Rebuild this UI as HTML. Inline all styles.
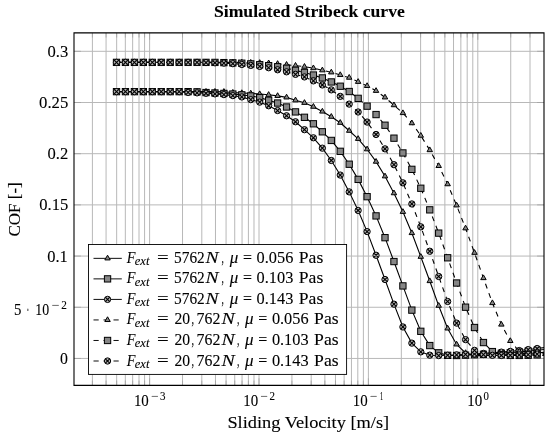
<!DOCTYPE html>
<html><head><meta charset="utf-8"><title>Simulated Stribeck curve</title>
<style>html,body{margin:0;padding:0;background:#fff}svg{display:block}text{font-family:"Liberation Serif",serif;fill:#000;stroke:#000;stroke-width:0.1px}</style></head><body>
<svg width="550" height="435" viewBox="0 0 550 435">
<rect width="550" height="435" fill="#fff"/>
<path d="M92.40 32.90V385.20M106.07 32.90V385.20M116.67 32.90V385.20M125.33 32.90V385.20M132.65 32.90V385.20M139.00 32.90V385.20M144.59 32.90V385.20M149.60 32.90V385.20M182.53 32.90V385.20M201.80 32.90V385.20M215.47 32.90V385.20M226.07 32.90V385.20M234.73 32.90V385.20M242.05 32.90V385.20M248.40 32.90V385.20M253.99 32.90V385.20M259.00 32.90V385.20M291.93 32.90V385.20M311.20 32.90V385.20M324.87 32.90V385.20M335.47 32.90V385.20M344.13 32.90V385.20M351.45 32.90V385.20M357.80 32.90V385.20M363.39 32.90V385.20M368.40 32.90V385.20M401.33 32.90V385.20M420.60 32.90V385.20M434.27 32.90V385.20M444.87 32.90V385.20M453.53 32.90V385.20M460.85 32.90V385.20M467.20 32.90V385.20M472.79 32.90V385.20M477.80 32.90V385.20M510.73 32.90V385.20M530.00 32.90V385.20M74.00 358.45H544.00M74.00 307.26H544.00M74.00 256.07H544.00M74.00 204.88H544.00M74.00 153.69H544.00M74.00 102.50H544.00M74.00 51.31H544.00" stroke="#b8b8b8" stroke-width="1.0" fill="none"/>
<path d="M92.40 385.20v-4.60M92.40 32.90v4.60M106.07 385.20v-4.60M106.07 32.90v4.60M116.67 385.20v-4.60M116.67 32.90v4.60M125.33 385.20v-4.60M125.33 32.90v4.60M132.65 385.20v-4.60M132.65 32.90v4.60M139.00 385.20v-4.60M139.00 32.90v4.60M144.59 385.20v-4.60M144.59 32.90v4.60M149.60 385.20v-6.90M149.60 32.90v6.90M182.53 385.20v-4.60M182.53 32.90v4.60M201.80 385.20v-4.60M201.80 32.90v4.60M215.47 385.20v-4.60M215.47 32.90v4.60M226.07 385.20v-4.60M226.07 32.90v4.60M234.73 385.20v-4.60M234.73 32.90v4.60M242.05 385.20v-4.60M242.05 32.90v4.60M248.40 385.20v-4.60M248.40 32.90v4.60M253.99 385.20v-4.60M253.99 32.90v4.60M259.00 385.20v-6.90M259.00 32.90v6.90M291.93 385.20v-4.60M291.93 32.90v4.60M311.20 385.20v-4.60M311.20 32.90v4.60M324.87 385.20v-4.60M324.87 32.90v4.60M335.47 385.20v-4.60M335.47 32.90v4.60M344.13 385.20v-4.60M344.13 32.90v4.60M351.45 385.20v-4.60M351.45 32.90v4.60M357.80 385.20v-4.60M357.80 32.90v4.60M363.39 385.20v-4.60M363.39 32.90v4.60M368.40 385.20v-6.90M368.40 32.90v6.90M401.33 385.20v-4.60M401.33 32.90v4.60M420.60 385.20v-4.60M420.60 32.90v4.60M434.27 385.20v-4.60M434.27 32.90v4.60M444.87 385.20v-4.60M444.87 32.90v4.60M453.53 385.20v-4.60M453.53 32.90v4.60M460.85 385.20v-4.60M460.85 32.90v4.60M467.20 385.20v-4.60M467.20 32.90v4.60M472.79 385.20v-4.60M472.79 32.90v4.60M477.80 385.20v-6.90M477.80 32.90v6.90M510.73 385.20v-4.60M510.73 32.90v4.60M530.00 385.20v-4.60M530.00 32.90v4.60M74.00 358.45h6.9M544.00 358.45h-6.9M74.00 307.26h6.9M544.00 307.26h-6.9M74.00 256.07h6.9M544.00 256.07h-6.9M74.00 204.88h6.9M544.00 204.88h-6.9M74.00 153.69h6.9M544.00 153.69h-6.9M74.00 102.50h6.9M544.00 102.50h-6.9M74.00 51.31h6.9M544.00 51.31h-6.9" stroke="#a2a2a2" stroke-width="0.8" fill="none"/>
<clipPath id="c"><rect x="74.0" y="32.9" width="470.0" height="352.3"/></clipPath>
<g clip-path="url(#c)" fill="none" stroke="#000" stroke-width="1.10">
<path d="M116.50 91.65L125.45 91.65L134.40 91.65L143.35 91.65L152.30 91.65L161.25 91.65L170.20 91.65L179.15 91.65L188.10 91.65L197.05 91.65L206.00 91.65L214.95 91.65L223.90 91.73L232.85 92.59L241.80 92.96L250.75 93.39L259.70 94.03L268.65 94.79L277.60 95.88L286.55 97.38L295.50 100.26L304.45 102.81L313.40 106.68L322.35 111.49L331.30 116.71L340.25 122.75L349.20 130.74L358.15 138.83L367.10 149.27L376.05 161.66L385.00 176.30L393.95 193.19L402.90 211.82L411.85 233.02L420.80 256.77L429.75 281.03L438.70 305.71L447.65 328.43L456.60 344.40L465.55 352.90L474.50 355.62L483.45 355.59L492.40 355.31L501.35 354.94L510.30 354.51L519.25 354.04L528.20 353.51L537.15 352.92L546.10 352.26"/>
<path d="M116.50 91.65L125.45 91.65L134.40 91.65L143.35 91.65L152.30 91.65L161.25 91.65L170.20 91.65L179.15 91.65L188.10 91.65L197.05 91.84L206.00 92.56L214.95 92.97L223.90 93.43L232.85 94.06L241.80 94.85L250.75 95.95L259.70 97.61L268.65 100.30L277.60 103.04L286.55 106.99L295.50 111.89L304.45 117.30L313.40 123.79L322.35 131.80L331.30 140.43L340.25 151.32L349.20 164.22L358.15 179.38L367.10 196.68L376.05 215.90L385.00 237.68L393.95 261.55L402.90 285.91L411.85 310.13L420.80 331.31L429.75 345.56L438.70 352.83L447.65 355.35L456.60 355.50L465.55 355.15L474.50 354.75L483.45 354.31L492.40 353.81L501.35 353.26L510.30 352.64L519.25 351.94L528.20 351.16L537.15 350.28L546.10 349.30"/>
<path d="M116.50 91.65L125.45 91.65L134.40 91.65L143.35 91.65L152.30 91.65L161.25 91.65L170.20 91.65L179.15 91.65L188.10 92.44L197.05 92.86L206.00 93.27L214.95 93.88L223.90 94.60L232.85 95.61L241.80 96.93L250.75 99.65L259.70 102.12L268.65 105.77L277.60 110.55L286.55 115.76L295.50 121.77L304.45 129.70L313.40 137.78L322.35 148.16L331.30 160.48L340.25 175.06L349.20 191.88L358.15 210.46L367.10 231.58L376.05 255.26L385.00 279.50L393.95 304.17L402.90 326.95L411.85 343.13L420.80 351.85L429.75 355.18L438.70 355.57L447.65 355.25L456.60 354.87L465.55 354.44L474.50 353.95L483.45 353.41L492.40 352.81L501.35 352.13L510.30 351.38L519.25 350.53L528.20 349.58L537.15 348.51L546.10 347.32"/>
<path d="M116.50 62.37L125.45 62.37L134.40 62.37L143.35 62.37L152.30 62.37L161.25 62.37L170.20 62.37L179.15 62.37L188.10 62.37L197.05 62.37L206.00 62.37L214.95 62.37L223.90 62.37L232.85 62.37L241.80 62.39L250.75 62.61L259.70 62.83L268.65 63.18L277.60 63.84L286.55 64.69L295.50 65.63L304.45 66.70L313.40 68.13L322.35 70.25L331.30 72.35L340.25 74.96L349.20 77.66L358.15 81.80L367.10 85.90L376.05 90.81L385.00 97.36L393.95 105.14L402.90 113.03L411.85 123.16L420.80 135.65L429.75 150.09L438.70 165.96L447.65 184.18L456.60 205.37L465.55 228.31L474.50 252.77L483.45 278.06L492.40 303.04L501.35 324.54L510.30 340.92L519.25 351.47L528.20 355.13L537.15 355.46L546.10 355.49" stroke-dasharray="5 5"/>
<path d="M116.50 62.37L125.45 62.37L134.40 62.37L143.35 62.37L152.30 62.37L161.25 62.37L170.20 62.37L179.15 62.37L188.10 62.37L197.05 62.37L206.00 62.37L214.95 62.41L223.90 62.62L232.85 62.85L241.80 63.22L250.75 63.89L259.70 64.73L268.65 65.67L277.60 66.77L286.55 68.26L295.50 70.31L304.45 72.48L313.40 75.04L322.35 77.93L331.30 81.94L340.25 86.23L349.20 91.52L358.15 98.35L367.10 106.16L376.05 114.56L385.00 125.23L393.95 138.17L402.90 152.94L411.85 169.35L420.80 188.25L429.75 209.85L438.70 233.13L447.65 257.79L456.60 283.01L465.55 307.19L474.50 327.51L483.45 342.55L492.40 351.59L501.35 354.83L510.30 355.40L519.25 355.43L528.20 355.21L537.15 354.87L546.10 354.44" stroke-dasharray="5 5"/>
<path d="M116.50 62.37L125.45 62.37L134.40 62.37L143.35 62.37L152.30 62.37L161.25 62.37L170.20 62.37L179.15 62.37L188.10 62.37L197.05 62.37L206.00 62.57L214.95 62.77L223.90 63.07L232.85 63.68L241.80 64.49L250.75 65.41L259.70 66.43L268.65 67.75L277.60 69.78L286.55 71.83L295.50 74.37L304.45 76.93L313.40 80.88L322.35 84.97L331.30 89.86L340.25 96.37L349.20 104.11L358.15 111.99L367.10 122.06L376.05 134.48L385.00 148.85L393.95 164.68L402.90 182.83L411.85 203.94L420.80 226.82L429.75 251.24L438.70 276.50L447.65 301.49L456.60 323.10L465.55 339.63L474.50 350.35L483.45 354.54L492.40 355.36L501.35 355.48L510.30 355.28L519.25 354.98L528.20 354.57L537.15 354.06L546.10 353.55" stroke-dasharray="5 5"/>
</g>
<g fill="#868686" stroke="#000" stroke-width="1.00">
<g><path d="M116.50 88.50L113.77 93.22L119.23 93.22Z"/><path d="M125.45 88.50L122.72 93.22L128.18 93.22Z"/><path d="M134.40 88.50L131.67 93.22L137.13 93.22Z"/><path d="M143.35 88.50L140.62 93.22L146.08 93.22Z"/><path d="M152.30 88.50L149.57 93.22L155.03 93.22Z"/><path d="M161.25 88.50L158.52 93.22L163.98 93.22Z"/><path d="M170.20 88.50L167.47 93.22L172.93 93.22Z"/><path d="M179.15 88.50L176.42 93.22L181.88 93.22Z"/><path d="M188.10 88.50L185.37 93.22L190.83 93.22Z"/><path d="M197.05 88.50L194.32 93.22L199.78 93.22Z"/><path d="M206.00 88.50L203.27 93.22L208.73 93.22Z"/><path d="M214.95 88.50L212.22 93.22L217.68 93.22Z"/><path d="M223.90 88.58L221.17 93.30L226.63 93.30Z"/><path d="M232.85 89.44L230.12 94.16L235.58 94.16Z"/><path d="M241.80 89.81L239.07 94.53L244.53 94.53Z"/><path d="M250.75 90.24L248.02 94.96L253.48 94.96Z"/><path d="M259.70 90.88L256.97 95.61L262.43 95.61Z"/><path d="M268.65 91.64L265.92 96.37L271.38 96.37Z"/><path d="M277.60 92.73L274.87 97.45L280.33 97.45Z"/><path d="M286.55 94.23L283.82 98.96L289.28 98.96Z"/><path d="M295.50 97.11L292.77 101.83L298.23 101.83Z"/><path d="M304.45 99.66L301.72 104.38L307.18 104.38Z"/><path d="M313.40 103.53L310.67 108.25L316.13 108.25Z"/><path d="M322.35 108.34L319.62 113.07L325.08 113.07Z"/><path d="M331.30 113.56L328.57 118.29L334.03 118.29Z"/><path d="M340.25 119.60L337.52 124.33L342.98 124.33Z"/><path d="M349.20 127.59L346.47 132.31L351.93 132.31Z"/><path d="M358.15 135.68L355.42 140.40L360.88 140.40Z"/><path d="M367.10 146.12L364.37 150.84L369.83 150.84Z"/><path d="M376.05 158.51L373.32 163.23L378.78 163.23Z"/><path d="M385.00 173.15L382.27 177.87L387.73 177.87Z"/><path d="M393.95 190.04L391.22 194.76L396.68 194.76Z"/><path d="M402.90 208.67L400.17 213.40L405.63 213.40Z"/><path d="M411.85 229.87L409.12 234.59L414.58 234.59Z"/><path d="M420.80 253.62L418.07 258.34L423.53 258.34Z"/><path d="M429.75 277.88L427.02 282.61L432.48 282.61Z"/><path d="M438.70 302.56L435.97 307.28L441.43 307.28Z"/><path d="M447.65 325.28L444.92 330.01L450.38 330.01Z"/><path d="M456.60 341.25L453.87 345.98L459.33 345.98Z"/><path d="M465.55 349.75L462.82 354.48L468.28 354.48Z"/><path d="M474.50 352.47L471.77 357.20L477.23 357.20Z"/><path d="M483.45 352.44L480.72 357.16L486.18 357.16Z"/><path d="M492.40 352.16L489.67 356.89L495.13 356.89Z"/><path d="M501.35 351.79L498.62 356.51L504.08 356.51Z"/><path d="M510.30 351.36L507.57 356.09L513.03 356.09Z"/><path d="M519.25 350.89L516.52 355.62L521.98 355.62Z"/><path d="M528.20 350.36L525.47 355.09L530.93 355.09Z"/><path d="M537.15 349.77L534.42 354.50L539.88 354.50Z"/></g>
<g><rect x="113.35" y="88.50" width="6.30" height="6.30"/><rect x="122.30" y="88.50" width="6.30" height="6.30"/><rect x="131.25" y="88.50" width="6.30" height="6.30"/><rect x="140.20" y="88.50" width="6.30" height="6.30"/><rect x="149.15" y="88.50" width="6.30" height="6.30"/><rect x="158.10" y="88.50" width="6.30" height="6.30"/><rect x="167.05" y="88.50" width="6.30" height="6.30"/><rect x="176.00" y="88.50" width="6.30" height="6.30"/><rect x="184.95" y="88.50" width="6.30" height="6.30"/><rect x="193.90" y="88.69" width="6.30" height="6.30"/><rect x="202.85" y="89.41" width="6.30" height="6.30"/><rect x="211.80" y="89.82" width="6.30" height="6.30"/><rect x="220.75" y="90.28" width="6.30" height="6.30"/><rect x="229.70" y="90.91" width="6.30" height="6.30"/><rect x="238.65" y="91.70" width="6.30" height="6.30"/><rect x="247.60" y="92.80" width="6.30" height="6.30"/><rect x="256.55" y="94.46" width="6.30" height="6.30"/><rect x="265.50" y="97.15" width="6.30" height="6.30"/><rect x="274.45" y="99.89" width="6.30" height="6.30"/><rect x="283.40" y="103.84" width="6.30" height="6.30"/><rect x="292.35" y="108.74" width="6.30" height="6.30"/><rect x="301.30" y="114.15" width="6.30" height="6.30"/><rect x="310.25" y="120.64" width="6.30" height="6.30"/><rect x="319.20" y="128.65" width="6.30" height="6.30"/><rect x="328.15" y="137.28" width="6.30" height="6.30"/><rect x="337.10" y="148.17" width="6.30" height="6.30"/><rect x="346.05" y="161.07" width="6.30" height="6.30"/><rect x="355.00" y="176.23" width="6.30" height="6.30"/><rect x="363.95" y="193.53" width="6.30" height="6.30"/><rect x="372.90" y="212.75" width="6.30" height="6.30"/><rect x="381.85" y="234.53" width="6.30" height="6.30"/><rect x="390.80" y="258.40" width="6.30" height="6.30"/><rect x="399.75" y="282.76" width="6.30" height="6.30"/><rect x="408.70" y="306.98" width="6.30" height="6.30"/><rect x="417.65" y="328.16" width="6.30" height="6.30"/><rect x="426.60" y="342.41" width="6.30" height="6.30"/><rect x="435.55" y="349.68" width="6.30" height="6.30"/><rect x="444.50" y="352.20" width="6.30" height="6.30"/><rect x="453.45" y="352.35" width="6.30" height="6.30"/><rect x="462.40" y="352.00" width="6.30" height="6.30"/><rect x="471.35" y="351.60" width="6.30" height="6.30"/><rect x="480.30" y="351.16" width="6.30" height="6.30"/><rect x="489.25" y="350.66" width="6.30" height="6.30"/><rect x="498.20" y="350.11" width="6.30" height="6.30"/><rect x="507.15" y="349.49" width="6.30" height="6.30"/><rect x="516.10" y="348.79" width="6.30" height="6.30"/><rect x="525.05" y="348.01" width="6.30" height="6.30"/><rect x="534.00" y="347.13" width="6.30" height="6.30"/></g>
<g><circle cx="116.50" cy="91.65" r="3.15" fill="#b8b8b8"/><path stroke-width="1.1" d="M114.27 89.42L118.73 93.88M114.27 93.88L118.73 89.42"/><circle cx="125.45" cy="91.65" r="3.15" fill="#b8b8b8"/><path stroke-width="1.1" d="M123.22 89.42L127.68 93.88M123.22 93.88L127.68 89.42"/><circle cx="134.40" cy="91.65" r="3.15" fill="#b8b8b8"/><path stroke-width="1.1" d="M132.17 89.42L136.63 93.88M132.17 93.88L136.63 89.42"/><circle cx="143.35" cy="91.65" r="3.15" fill="#b8b8b8"/><path stroke-width="1.1" d="M141.12 89.42L145.58 93.88M141.12 93.88L145.58 89.42"/><circle cx="152.30" cy="91.65" r="3.15" fill="#b8b8b8"/><path stroke-width="1.1" d="M150.07 89.42L154.53 93.88M150.07 93.88L154.53 89.42"/><circle cx="161.25" cy="91.65" r="3.15" fill="#b8b8b8"/><path stroke-width="1.1" d="M159.02 89.42L163.48 93.88M159.02 93.88L163.48 89.42"/><circle cx="170.20" cy="91.65" r="3.15" fill="#b8b8b8"/><path stroke-width="1.1" d="M167.97 89.42L172.43 93.88M167.97 93.88L172.43 89.42"/><circle cx="179.15" cy="91.65" r="3.15" fill="#b8b8b8"/><path stroke-width="1.1" d="M176.92 89.42L181.38 93.88M176.92 93.88L181.38 89.42"/><circle cx="188.10" cy="92.44" r="3.15" fill="#b8b8b8"/><path stroke-width="1.1" d="M185.87 90.21L190.33 94.67M185.87 94.67L190.33 90.21"/><circle cx="197.05" cy="92.86" r="3.15" fill="#b8b8b8"/><path stroke-width="1.1" d="M194.82 90.64L199.28 95.09M194.82 95.09L199.28 90.64"/><circle cx="206.00" cy="93.27" r="3.15" fill="#b8b8b8"/><path stroke-width="1.1" d="M203.77 91.05L208.23 95.50M203.77 95.50L208.23 91.05"/><circle cx="214.95" cy="93.88" r="3.15" fill="#b8b8b8"/><path stroke-width="1.1" d="M212.72 91.65L217.18 96.11M212.72 96.11L217.18 91.65"/><circle cx="223.90" cy="94.60" r="3.15" fill="#b8b8b8"/><path stroke-width="1.1" d="M221.67 92.37L226.13 96.82M221.67 96.82L226.13 92.37"/><circle cx="232.85" cy="95.61" r="3.15" fill="#b8b8b8"/><path stroke-width="1.1" d="M230.62 93.38L235.08 97.84M230.62 97.84L235.08 93.38"/><circle cx="241.80" cy="96.93" r="3.15" fill="#b8b8b8"/><path stroke-width="1.1" d="M239.57 94.70L244.03 99.16M239.57 99.16L244.03 94.70"/><circle cx="250.75" cy="99.65" r="3.15" fill="#b8b8b8"/><path stroke-width="1.1" d="M248.52 97.43L252.98 101.88M248.52 101.88L252.98 97.43"/><circle cx="259.70" cy="102.12" r="3.15" fill="#b8b8b8"/><path stroke-width="1.1" d="M257.47 99.89L261.93 104.35M257.47 104.35L261.93 99.89"/><circle cx="268.65" cy="105.77" r="3.15" fill="#b8b8b8"/><path stroke-width="1.1" d="M266.42 103.54L270.88 108.00M266.42 108.00L270.88 103.54"/><circle cx="277.60" cy="110.55" r="3.15" fill="#b8b8b8"/><path stroke-width="1.1" d="M275.37 108.32L279.83 112.77M275.37 112.77L279.83 108.32"/><circle cx="286.55" cy="115.76" r="3.15" fill="#b8b8b8"/><path stroke-width="1.1" d="M284.32 113.53L288.78 117.98M284.32 117.98L288.78 113.53"/><circle cx="295.50" cy="121.77" r="3.15" fill="#b8b8b8"/><path stroke-width="1.1" d="M293.27 119.54L297.73 124.00M293.27 124.00L297.73 119.54"/><circle cx="304.45" cy="129.70" r="3.15" fill="#b8b8b8"/><path stroke-width="1.1" d="M302.22 127.47L306.68 131.93M302.22 131.93L306.68 127.47"/><circle cx="313.40" cy="137.78" r="3.15" fill="#b8b8b8"/><path stroke-width="1.1" d="M311.17 135.56L315.63 140.01M311.17 140.01L315.63 135.56"/><circle cx="322.35" cy="148.16" r="3.15" fill="#b8b8b8"/><path stroke-width="1.1" d="M320.12 145.93L324.58 150.38M320.12 150.38L324.58 145.93"/><circle cx="331.30" cy="160.48" r="3.15" fill="#b8b8b8"/><path stroke-width="1.1" d="M329.07 158.26L333.53 162.71M329.07 162.71L333.53 158.26"/><circle cx="340.25" cy="175.06" r="3.15" fill="#b8b8b8"/><path stroke-width="1.1" d="M338.02 172.83L342.48 177.29M338.02 177.29L342.48 172.83"/><circle cx="349.20" cy="191.88" r="3.15" fill="#b8b8b8"/><path stroke-width="1.1" d="M346.97 189.66L351.43 194.11M346.97 194.11L351.43 189.66"/><circle cx="358.15" cy="210.46" r="3.15" fill="#b8b8b8"/><path stroke-width="1.1" d="M355.92 208.24L360.38 212.69M355.92 212.69L360.38 208.24"/><circle cx="367.10" cy="231.58" r="3.15" fill="#b8b8b8"/><path stroke-width="1.1" d="M364.87 229.35L369.33 233.81M364.87 233.81L369.33 229.35"/><circle cx="376.05" cy="255.26" r="3.15" fill="#b8b8b8"/><path stroke-width="1.1" d="M373.82 253.03L378.28 257.48M373.82 257.48L378.28 253.03"/><circle cx="385.00" cy="279.50" r="3.15" fill="#b8b8b8"/><path stroke-width="1.1" d="M382.77 277.28L387.23 281.73M382.77 281.73L387.23 277.28"/><circle cx="393.95" cy="304.17" r="3.15" fill="#b8b8b8"/><path stroke-width="1.1" d="M391.72 301.94L396.18 306.39M391.72 306.39L396.18 301.94"/><circle cx="402.90" cy="326.95" r="3.15" fill="#b8b8b8"/><path stroke-width="1.1" d="M400.67 324.72L405.13 329.18M400.67 329.18L405.13 324.72"/><circle cx="411.85" cy="343.13" r="3.15" fill="#b8b8b8"/><path stroke-width="1.1" d="M409.62 340.90L414.08 345.35M409.62 345.35L414.08 340.90"/><circle cx="420.80" cy="351.85" r="3.15" fill="#b8b8b8"/><path stroke-width="1.1" d="M418.57 349.62L423.03 354.07M418.57 354.07L423.03 349.62"/><circle cx="429.75" cy="355.18" r="3.15" fill="#b8b8b8"/><path stroke-width="1.1" d="M427.52 352.95L431.98 357.41M427.52 357.41L431.98 352.95"/><circle cx="438.70" cy="355.57" r="3.15" fill="#b8b8b8"/><path stroke-width="1.1" d="M436.47 353.35L440.93 357.80M436.47 357.80L440.93 353.35"/><circle cx="447.65" cy="355.25" r="3.15" fill="#b8b8b8"/><path stroke-width="1.1" d="M445.42 353.02L449.88 357.48M445.42 357.48L449.88 353.02"/><circle cx="456.60" cy="354.87" r="3.15" fill="#b8b8b8"/><path stroke-width="1.1" d="M454.37 352.64L458.83 357.09M454.37 357.09L458.83 352.64"/><circle cx="465.55" cy="354.44" r="3.15" fill="#b8b8b8"/><path stroke-width="1.1" d="M463.32 352.21L467.78 356.66M463.32 356.66L467.78 352.21"/><circle cx="474.50" cy="353.95" r="3.15" fill="#b8b8b8"/><path stroke-width="1.1" d="M472.27 351.73L476.73 356.18M472.27 356.18L476.73 351.73"/><circle cx="483.45" cy="353.41" r="3.15" fill="#b8b8b8"/><path stroke-width="1.1" d="M481.22 351.19L485.68 355.64M481.22 355.64L485.68 351.19"/><circle cx="492.40" cy="352.81" r="3.15" fill="#b8b8b8"/><path stroke-width="1.1" d="M490.17 350.58L494.63 355.04M490.17 355.04L494.63 350.58"/><circle cx="501.35" cy="352.13" r="3.15" fill="#b8b8b8"/><path stroke-width="1.1" d="M499.12 349.91L503.58 354.36M499.12 354.36L503.58 349.91"/><circle cx="510.30" cy="351.38" r="3.15" fill="#b8b8b8"/><path stroke-width="1.1" d="M508.07 349.15L512.53 353.60M508.07 353.60L512.53 349.15"/><circle cx="519.25" cy="350.53" r="3.15" fill="#b8b8b8"/><path stroke-width="1.1" d="M517.02 348.30L521.48 352.75M517.02 352.75L521.48 348.30"/><circle cx="528.20" cy="349.58" r="3.15" fill="#b8b8b8"/><path stroke-width="1.1" d="M525.97 347.35L530.43 351.80M525.97 351.80L530.43 347.35"/><circle cx="537.15" cy="348.51" r="3.15" fill="#b8b8b8"/><path stroke-width="1.1" d="M534.92 346.28L539.38 350.74M534.92 350.74L539.38 346.28"/></g>
<g><path d="M116.50 59.22L113.77 63.94L119.23 63.94Z"/><path d="M125.45 59.22L122.72 63.94L128.18 63.94Z"/><path d="M134.40 59.22L131.67 63.94L137.13 63.94Z"/><path d="M143.35 59.22L140.62 63.94L146.08 63.94Z"/><path d="M152.30 59.22L149.57 63.94L155.03 63.94Z"/><path d="M161.25 59.22L158.52 63.94L163.98 63.94Z"/><path d="M170.20 59.22L167.47 63.94L172.93 63.94Z"/><path d="M179.15 59.22L176.42 63.94L181.88 63.94Z"/><path d="M188.10 59.22L185.37 63.94L190.83 63.94Z"/><path d="M197.05 59.22L194.32 63.94L199.78 63.94Z"/><path d="M206.00 59.22L203.27 63.94L208.73 63.94Z"/><path d="M214.95 59.22L212.22 63.94L217.68 63.94Z"/><path d="M223.90 59.22L221.17 63.94L226.63 63.94Z"/><path d="M232.85 59.22L230.12 63.94L235.58 63.94Z"/><path d="M241.80 59.24L239.07 63.96L244.53 63.96Z"/><path d="M250.75 59.46L248.02 64.19L253.48 64.19Z"/><path d="M259.70 59.68L256.97 64.40L262.43 64.40Z"/><path d="M268.65 60.03L265.92 64.75L271.38 64.75Z"/><path d="M277.60 60.69L274.87 65.42L280.33 65.42Z"/><path d="M286.55 61.54L283.82 66.27L289.28 66.27Z"/><path d="M295.50 62.48L292.77 67.21L298.23 67.21Z"/><path d="M304.45 63.55L301.72 68.27L307.18 68.27Z"/><path d="M313.40 64.98L310.67 69.71L316.13 69.71Z"/><path d="M322.35 67.10L319.62 71.83L325.08 71.83Z"/><path d="M331.30 69.20L328.57 73.92L334.03 73.92Z"/><path d="M340.25 71.81L337.52 76.53L342.98 76.53Z"/><path d="M349.20 74.51L346.47 79.24L351.93 79.24Z"/><path d="M358.15 78.65L355.42 83.38L360.88 83.38Z"/><path d="M367.10 82.75L364.37 87.47L369.83 87.47Z"/><path d="M376.05 87.66L373.32 92.38L378.78 92.38Z"/><path d="M385.00 94.21L382.27 98.94L387.73 98.94Z"/><path d="M393.95 101.99L391.22 106.72L396.68 106.72Z"/><path d="M402.90 109.88L400.17 114.60L405.63 114.60Z"/><path d="M411.85 120.01L409.12 124.74L414.58 124.74Z"/><path d="M420.80 132.50L418.07 137.23L423.53 137.23Z"/><path d="M429.75 146.94L427.02 151.66L432.48 151.66Z"/><path d="M438.70 162.81L435.97 167.53L441.43 167.53Z"/><path d="M447.65 181.03L444.92 185.76L450.38 185.76Z"/><path d="M456.60 202.22L453.87 206.95L459.33 206.95Z"/><path d="M465.55 225.16L462.82 229.88L468.28 229.88Z"/><path d="M474.50 249.62L471.77 254.35L477.23 254.35Z"/><path d="M483.45 274.91L480.72 279.64L486.18 279.64Z"/><path d="M492.40 299.89L489.67 304.62L495.13 304.62Z"/><path d="M501.35 321.39L498.62 326.12L504.08 326.12Z"/><path d="M510.30 337.77L507.57 342.50L513.03 342.50Z"/><path d="M519.25 348.32L516.52 353.04L521.98 353.04Z"/><path d="M528.20 351.98L525.47 356.71L530.93 356.71Z"/><path d="M537.15 352.31L534.42 357.04L539.88 357.04Z"/></g>
<g><rect x="113.35" y="59.22" width="6.30" height="6.30"/><rect x="122.30" y="59.22" width="6.30" height="6.30"/><rect x="131.25" y="59.22" width="6.30" height="6.30"/><rect x="140.20" y="59.22" width="6.30" height="6.30"/><rect x="149.15" y="59.22" width="6.30" height="6.30"/><rect x="158.10" y="59.22" width="6.30" height="6.30"/><rect x="167.05" y="59.22" width="6.30" height="6.30"/><rect x="176.00" y="59.22" width="6.30" height="6.30"/><rect x="184.95" y="59.22" width="6.30" height="6.30"/><rect x="193.90" y="59.22" width="6.30" height="6.30"/><rect x="202.85" y="59.22" width="6.30" height="6.30"/><rect x="211.80" y="59.26" width="6.30" height="6.30"/><rect x="220.75" y="59.47" width="6.30" height="6.30"/><rect x="229.70" y="59.70" width="6.30" height="6.30"/><rect x="238.65" y="60.07" width="6.30" height="6.30"/><rect x="247.60" y="60.74" width="6.30" height="6.30"/><rect x="256.55" y="61.58" width="6.30" height="6.30"/><rect x="265.50" y="62.52" width="6.30" height="6.30"/><rect x="274.45" y="63.62" width="6.30" height="6.30"/><rect x="283.40" y="65.11" width="6.30" height="6.30"/><rect x="292.35" y="67.16" width="6.30" height="6.30"/><rect x="301.30" y="69.33" width="6.30" height="6.30"/><rect x="310.25" y="71.89" width="6.30" height="6.30"/><rect x="319.20" y="74.78" width="6.30" height="6.30"/><rect x="328.15" y="78.79" width="6.30" height="6.30"/><rect x="337.10" y="83.08" width="6.30" height="6.30"/><rect x="346.05" y="88.37" width="6.30" height="6.30"/><rect x="355.00" y="95.20" width="6.30" height="6.30"/><rect x="363.95" y="103.01" width="6.30" height="6.30"/><rect x="372.90" y="111.41" width="6.30" height="6.30"/><rect x="381.85" y="122.08" width="6.30" height="6.30"/><rect x="390.80" y="135.02" width="6.30" height="6.30"/><rect x="399.75" y="149.79" width="6.30" height="6.30"/><rect x="408.70" y="166.20" width="6.30" height="6.30"/><rect x="417.65" y="185.10" width="6.30" height="6.30"/><rect x="426.60" y="206.70" width="6.30" height="6.30"/><rect x="435.55" y="229.98" width="6.30" height="6.30"/><rect x="444.50" y="254.64" width="6.30" height="6.30"/><rect x="453.45" y="279.86" width="6.30" height="6.30"/><rect x="462.40" y="304.04" width="6.30" height="6.30"/><rect x="471.35" y="324.36" width="6.30" height="6.30"/><rect x="480.30" y="339.40" width="6.30" height="6.30"/><rect x="489.25" y="348.44" width="6.30" height="6.30"/><rect x="498.20" y="351.68" width="6.30" height="6.30"/><rect x="507.15" y="352.25" width="6.30" height="6.30"/><rect x="516.10" y="352.28" width="6.30" height="6.30"/><rect x="525.05" y="352.06" width="6.30" height="6.30"/><rect x="534.00" y="351.72" width="6.30" height="6.30"/></g>
<g><circle cx="116.50" cy="62.37" r="3.15" fill="#b8b8b8"/><path stroke-width="1.1" d="M114.27 60.14L118.73 64.59M114.27 64.59L118.73 60.14"/><circle cx="125.45" cy="62.37" r="3.15" fill="#b8b8b8"/><path stroke-width="1.1" d="M123.22 60.14L127.68 64.59M123.22 64.59L127.68 60.14"/><circle cx="134.40" cy="62.37" r="3.15" fill="#b8b8b8"/><path stroke-width="1.1" d="M132.17 60.14L136.63 64.59M132.17 64.59L136.63 60.14"/><circle cx="143.35" cy="62.37" r="3.15" fill="#b8b8b8"/><path stroke-width="1.1" d="M141.12 60.14L145.58 64.59M141.12 64.59L145.58 60.14"/><circle cx="152.30" cy="62.37" r="3.15" fill="#b8b8b8"/><path stroke-width="1.1" d="M150.07 60.14L154.53 64.59M150.07 64.59L154.53 60.14"/><circle cx="161.25" cy="62.37" r="3.15" fill="#b8b8b8"/><path stroke-width="1.1" d="M159.02 60.14L163.48 64.59M159.02 64.59L163.48 60.14"/><circle cx="170.20" cy="62.37" r="3.15" fill="#b8b8b8"/><path stroke-width="1.1" d="M167.97 60.14L172.43 64.59M167.97 64.59L172.43 60.14"/><circle cx="179.15" cy="62.37" r="3.15" fill="#b8b8b8"/><path stroke-width="1.1" d="M176.92 60.14L181.38 64.59M176.92 64.59L181.38 60.14"/><circle cx="188.10" cy="62.37" r="3.15" fill="#b8b8b8"/><path stroke-width="1.1" d="M185.87 60.14L190.33 64.59M185.87 64.59L190.33 60.14"/><circle cx="197.05" cy="62.37" r="3.15" fill="#b8b8b8"/><path stroke-width="1.1" d="M194.82 60.14L199.28 64.59M194.82 64.59L199.28 60.14"/><circle cx="206.00" cy="62.57" r="3.15" fill="#b8b8b8"/><path stroke-width="1.1" d="M203.77 60.34L208.23 64.79M203.77 64.79L208.23 60.34"/><circle cx="214.95" cy="62.77" r="3.15" fill="#b8b8b8"/><path stroke-width="1.1" d="M212.72 60.54L217.18 65.00M212.72 65.00L217.18 60.54"/><circle cx="223.90" cy="63.07" r="3.15" fill="#b8b8b8"/><path stroke-width="1.1" d="M221.67 60.85L226.13 65.30M221.67 65.30L226.13 60.85"/><circle cx="232.85" cy="63.68" r="3.15" fill="#b8b8b8"/><path stroke-width="1.1" d="M230.62 61.45L235.08 65.91M230.62 65.91L235.08 61.45"/><circle cx="241.80" cy="64.49" r="3.15" fill="#b8b8b8"/><path stroke-width="1.1" d="M239.57 62.27L244.03 66.72M239.57 66.72L244.03 62.27"/><circle cx="250.75" cy="65.41" r="3.15" fill="#b8b8b8"/><path stroke-width="1.1" d="M248.52 63.18L252.98 67.64M248.52 67.64L252.98 63.18"/><circle cx="259.70" cy="66.43" r="3.15" fill="#b8b8b8"/><path stroke-width="1.1" d="M257.47 64.20L261.93 68.66M257.47 68.66L261.93 64.20"/><circle cx="268.65" cy="67.75" r="3.15" fill="#b8b8b8"/><path stroke-width="1.1" d="M266.42 65.53L270.88 69.98M266.42 69.98L270.88 65.53"/><circle cx="277.60" cy="69.78" r="3.15" fill="#b8b8b8"/><path stroke-width="1.1" d="M275.37 67.55L279.83 72.01M275.37 72.01L279.83 67.55"/><circle cx="286.55" cy="71.83" r="3.15" fill="#b8b8b8"/><path stroke-width="1.1" d="M284.32 69.60L288.78 74.05M284.32 74.05L288.78 69.60"/><circle cx="295.50" cy="74.37" r="3.15" fill="#b8b8b8"/><path stroke-width="1.1" d="M293.27 72.14L297.73 76.60M293.27 76.60L297.73 72.14"/><circle cx="304.45" cy="76.93" r="3.15" fill="#b8b8b8"/><path stroke-width="1.1" d="M302.22 74.70L306.68 79.16M302.22 79.16L306.68 74.70"/><circle cx="313.40" cy="80.88" r="3.15" fill="#b8b8b8"/><path stroke-width="1.1" d="M311.17 78.65L315.63 83.11M311.17 83.11L315.63 78.65"/><circle cx="322.35" cy="84.97" r="3.15" fill="#b8b8b8"/><path stroke-width="1.1" d="M320.12 82.75L324.58 87.20M320.12 87.20L324.58 82.75"/><circle cx="331.30" cy="89.86" r="3.15" fill="#b8b8b8"/><path stroke-width="1.1" d="M329.07 87.63L333.53 92.09M329.07 92.09L333.53 87.63"/><circle cx="340.25" cy="96.37" r="3.15" fill="#b8b8b8"/><path stroke-width="1.1" d="M338.02 94.14L342.48 98.59M338.02 98.59L342.48 94.14"/><circle cx="349.20" cy="104.11" r="3.15" fill="#b8b8b8"/><path stroke-width="1.1" d="M346.97 101.88L351.43 106.34M346.97 106.34L351.43 101.88"/><circle cx="358.15" cy="111.99" r="3.15" fill="#b8b8b8"/><path stroke-width="1.1" d="M355.92 109.76L360.38 114.22M355.92 114.22L360.38 109.76"/><circle cx="367.10" cy="122.06" r="3.15" fill="#b8b8b8"/><path stroke-width="1.1" d="M364.87 119.83L369.33 124.29M364.87 124.29L369.33 119.83"/><circle cx="376.05" cy="134.48" r="3.15" fill="#b8b8b8"/><path stroke-width="1.1" d="M373.82 132.25L378.28 136.70M373.82 136.70L378.28 132.25"/><circle cx="385.00" cy="148.85" r="3.15" fill="#b8b8b8"/><path stroke-width="1.1" d="M382.77 146.63L387.23 151.08M382.77 151.08L387.23 146.63"/><circle cx="393.95" cy="164.68" r="3.15" fill="#b8b8b8"/><path stroke-width="1.1" d="M391.72 162.45L396.18 166.91M391.72 166.91L396.18 162.45"/><circle cx="402.90" cy="182.83" r="3.15" fill="#b8b8b8"/><path stroke-width="1.1" d="M400.67 180.61L405.13 185.06M400.67 185.06L405.13 180.61"/><circle cx="411.85" cy="203.94" r="3.15" fill="#b8b8b8"/><path stroke-width="1.1" d="M409.62 201.71L414.08 206.16M409.62 206.16L414.08 201.71"/><circle cx="420.80" cy="226.82" r="3.15" fill="#b8b8b8"/><path stroke-width="1.1" d="M418.57 224.59L423.03 229.05M418.57 229.05L423.03 224.59"/><circle cx="429.75" cy="251.24" r="3.15" fill="#b8b8b8"/><path stroke-width="1.1" d="M427.52 249.01L431.98 253.47M427.52 253.47L431.98 249.01"/><circle cx="438.70" cy="276.50" r="3.15" fill="#b8b8b8"/><path stroke-width="1.1" d="M436.47 274.28L440.93 278.73M436.47 278.73L440.93 274.28"/><circle cx="447.65" cy="301.49" r="3.15" fill="#b8b8b8"/><path stroke-width="1.1" d="M445.42 299.27L449.88 303.72M445.42 303.72L449.88 299.27"/><circle cx="456.60" cy="323.10" r="3.15" fill="#b8b8b8"/><path stroke-width="1.1" d="M454.37 320.87L458.83 325.33M454.37 325.33L458.83 320.87"/><circle cx="465.55" cy="339.63" r="3.15" fill="#b8b8b8"/><path stroke-width="1.1" d="M463.32 337.41L467.78 341.86M463.32 341.86L467.78 337.41"/><circle cx="474.50" cy="350.35" r="3.15" fill="#b8b8b8"/><path stroke-width="1.1" d="M472.27 348.13L476.73 352.58M472.27 352.58L476.73 348.13"/><circle cx="483.45" cy="354.54" r="3.15" fill="#b8b8b8"/><path stroke-width="1.1" d="M481.22 352.31L485.68 356.77M481.22 356.77L485.68 352.31"/><circle cx="492.40" cy="355.36" r="3.15" fill="#b8b8b8"/><path stroke-width="1.1" d="M490.17 353.13L494.63 357.58M490.17 357.58L494.63 353.13"/><circle cx="501.35" cy="355.48" r="3.15" fill="#b8b8b8"/><path stroke-width="1.1" d="M499.12 353.25L503.58 357.71M499.12 357.71L503.58 353.25"/><circle cx="510.30" cy="355.28" r="3.15" fill="#b8b8b8"/><path stroke-width="1.1" d="M508.07 353.05L512.53 357.51M508.07 357.51L512.53 353.05"/><circle cx="519.25" cy="354.98" r="3.15" fill="#b8b8b8"/><path stroke-width="1.1" d="M517.02 352.75L521.48 357.21M517.02 357.21L521.48 352.75"/><circle cx="528.20" cy="354.57" r="3.15" fill="#b8b8b8"/><path stroke-width="1.1" d="M525.97 352.34L530.43 356.80M525.97 356.80L530.43 352.34"/><circle cx="537.15" cy="354.06" r="3.15" fill="#b8b8b8"/><path stroke-width="1.1" d="M534.92 351.84L539.38 356.29M534.92 356.29L539.38 351.84"/></g>
</g>
<path d="M74.0 32.9H544.0V385.34999999999997H74.0Z" fill="none" stroke="#000" stroke-width="1.1"/>
<rect x="88.5" y="244.5" width="258.1" height="129.89999999999998" fill="#fff" stroke="#000" stroke-width="0.9"/>
<path d="M93.5 258.35H121.8" stroke="#000" stroke-width="0.95" fill="none"/>
<g fill="#868686" stroke="#000" stroke-width="1.00"><path d="M107.55 255.20L104.82 259.93L110.28 259.93Z"/></g>
<text x="126.74" y="262.85" font-size="16.4" font-style="italic" textLength="8.73" lengthAdjust="spacingAndGlyphs">F</text>
<text x="134.80" y="265.35" font-size="12.4" font-style="italic" textLength="14.59" lengthAdjust="spacingAndGlyphs">ext</text>
<text x="157.10" y="262.85" font-size="16.4" textLength="11.68" lengthAdjust="spacingAndGlyphs">=</text>
<text x="174.10" y="262.85" font-size="16.4" textLength="30.70" lengthAdjust="spacingAndGlyphs">5762</text>
<text x="205.50" y="262.85" font-size="16.4" font-style="italic" textLength="13.06" lengthAdjust="spacingAndGlyphs">N</text>
<text x="221.60" y="262.85" font-size="16.4" textLength="2.40" lengthAdjust="spacingAndGlyphs">,</text>
<text x="229.69" y="262.85" font-size="16.4" font-style="italic" textLength="8.55" lengthAdjust="spacingAndGlyphs">μ</text>
<text x="243.00" y="262.85" font-size="16.4" textLength="8.98" lengthAdjust="spacingAndGlyphs">=</text>
<text x="256.60" y="262.85" font-size="16.4" textLength="36.70" lengthAdjust="spacingAndGlyphs">0.056</text>
<text x="298.80" y="262.85" font-size="16.4" textLength="24.48" lengthAdjust="spacingAndGlyphs">Pas</text>
<path d="M93.5 278.88H121.8" stroke="#000" stroke-width="0.95" fill="none"/>
<g fill="#868686" stroke="#000" stroke-width="1.00"><rect x="104.40" y="275.73" width="6.30" height="6.30"/></g>
<text x="126.74" y="283.38" font-size="16.4" font-style="italic" textLength="8.73" lengthAdjust="spacingAndGlyphs">F</text>
<text x="134.80" y="285.88" font-size="12.4" font-style="italic" textLength="14.59" lengthAdjust="spacingAndGlyphs">ext</text>
<text x="157.10" y="283.38" font-size="16.4" textLength="11.68" lengthAdjust="spacingAndGlyphs">=</text>
<text x="174.10" y="283.38" font-size="16.4" textLength="30.70" lengthAdjust="spacingAndGlyphs">5762</text>
<text x="205.50" y="283.38" font-size="16.4" font-style="italic" textLength="13.06" lengthAdjust="spacingAndGlyphs">N</text>
<text x="221.60" y="283.38" font-size="16.4" textLength="2.40" lengthAdjust="spacingAndGlyphs">,</text>
<text x="229.69" y="283.38" font-size="16.4" font-style="italic" textLength="8.55" lengthAdjust="spacingAndGlyphs">μ</text>
<text x="243.00" y="283.38" font-size="16.4" textLength="8.98" lengthAdjust="spacingAndGlyphs">=</text>
<text x="256.60" y="283.38" font-size="16.4" textLength="36.70" lengthAdjust="spacingAndGlyphs">0.103</text>
<text x="298.80" y="283.38" font-size="16.4" textLength="24.48" lengthAdjust="spacingAndGlyphs">Pas</text>
<path d="M93.5 299.41H121.8" stroke="#000" stroke-width="0.95" fill="none"/>
<g fill="#868686" stroke="#000" stroke-width="1.00"><circle cx="107.55" cy="299.41" r="3.15" fill="#b8b8b8"/><path stroke-width="1.1" d="M105.32 297.18L109.78 301.64M105.32 301.64L109.78 297.18"/></g>
<text x="126.74" y="303.91" font-size="16.4" font-style="italic" textLength="8.73" lengthAdjust="spacingAndGlyphs">F</text>
<text x="134.80" y="306.41" font-size="12.4" font-style="italic" textLength="14.59" lengthAdjust="spacingAndGlyphs">ext</text>
<text x="157.10" y="303.91" font-size="16.4" textLength="11.68" lengthAdjust="spacingAndGlyphs">=</text>
<text x="174.10" y="303.91" font-size="16.4" textLength="30.70" lengthAdjust="spacingAndGlyphs">5762</text>
<text x="205.50" y="303.91" font-size="16.4" font-style="italic" textLength="13.06" lengthAdjust="spacingAndGlyphs">N</text>
<text x="221.60" y="303.91" font-size="16.4" textLength="2.40" lengthAdjust="spacingAndGlyphs">,</text>
<text x="229.69" y="303.91" font-size="16.4" font-style="italic" textLength="8.55" lengthAdjust="spacingAndGlyphs">μ</text>
<text x="243.00" y="303.91" font-size="16.4" textLength="8.98" lengthAdjust="spacingAndGlyphs">=</text>
<text x="256.60" y="303.91" font-size="16.4" textLength="36.70" lengthAdjust="spacingAndGlyphs">0.143</text>
<text x="298.80" y="303.91" font-size="16.4" textLength="24.48" lengthAdjust="spacingAndGlyphs">Pas</text>
<path d="M93.5 319.94H121.8" stroke="#000" stroke-width="0.95" fill="none" stroke-dasharray="5.2 4.8"/>
<g fill="#868686" stroke="#000" stroke-width="1.00"><path d="M107.55 316.79L104.82 321.52L110.28 321.52Z"/></g>
<text x="126.74" y="324.44" font-size="16.4" font-style="italic" textLength="8.73" lengthAdjust="spacingAndGlyphs">F</text>
<text x="134.80" y="326.94" font-size="12.4" font-style="italic" textLength="14.59" lengthAdjust="spacingAndGlyphs">ext</text>
<text x="157.10" y="324.44" font-size="16.4" textLength="11.68" lengthAdjust="spacingAndGlyphs">=</text>
<text x="174.40" y="324.44" font-size="16.4" textLength="15.60" lengthAdjust="spacingAndGlyphs">20</text>
<text x="191.40" y="324.44" font-size="16.4" textLength="2.60" lengthAdjust="spacingAndGlyphs">,</text>
<text x="196.60" y="324.44" font-size="16.4" textLength="23.80" lengthAdjust="spacingAndGlyphs">762</text>
<text x="221.40" y="324.44" font-size="16.4" font-style="italic" textLength="13.25" lengthAdjust="spacingAndGlyphs">N</text>
<text x="236.90" y="324.44" font-size="16.4" textLength="2.40" lengthAdjust="spacingAndGlyphs">,</text>
<text x="244.99" y="324.44" font-size="16.4" font-style="italic" textLength="8.55" lengthAdjust="spacingAndGlyphs">μ</text>
<text x="258.30" y="324.44" font-size="16.4" textLength="8.98" lengthAdjust="spacingAndGlyphs">=</text>
<text x="271.90" y="324.44" font-size="16.4" textLength="36.70" lengthAdjust="spacingAndGlyphs">0.056</text>
<text x="314.10" y="324.44" font-size="16.4" textLength="24.48" lengthAdjust="spacingAndGlyphs">Pas</text>
<path d="M93.5 340.47H121.8" stroke="#000" stroke-width="0.95" fill="none" stroke-dasharray="5.2 4.8"/>
<g fill="#868686" stroke="#000" stroke-width="1.00"><rect x="104.40" y="337.32" width="6.30" height="6.30"/></g>
<text x="126.74" y="344.97" font-size="16.4" font-style="italic" textLength="8.73" lengthAdjust="spacingAndGlyphs">F</text>
<text x="134.80" y="347.47" font-size="12.4" font-style="italic" textLength="14.59" lengthAdjust="spacingAndGlyphs">ext</text>
<text x="157.10" y="344.97" font-size="16.4" textLength="11.68" lengthAdjust="spacingAndGlyphs">=</text>
<text x="174.40" y="344.97" font-size="16.4" textLength="15.60" lengthAdjust="spacingAndGlyphs">20</text>
<text x="191.40" y="344.97" font-size="16.4" textLength="2.60" lengthAdjust="spacingAndGlyphs">,</text>
<text x="196.60" y="344.97" font-size="16.4" textLength="23.80" lengthAdjust="spacingAndGlyphs">762</text>
<text x="221.40" y="344.97" font-size="16.4" font-style="italic" textLength="13.25" lengthAdjust="spacingAndGlyphs">N</text>
<text x="236.90" y="344.97" font-size="16.4" textLength="2.40" lengthAdjust="spacingAndGlyphs">,</text>
<text x="244.99" y="344.97" font-size="16.4" font-style="italic" textLength="8.55" lengthAdjust="spacingAndGlyphs">μ</text>
<text x="258.30" y="344.97" font-size="16.4" textLength="8.98" lengthAdjust="spacingAndGlyphs">=</text>
<text x="271.90" y="344.97" font-size="16.4" textLength="36.70" lengthAdjust="spacingAndGlyphs">0.103</text>
<text x="314.10" y="344.97" font-size="16.4" textLength="24.48" lengthAdjust="spacingAndGlyphs">Pas</text>
<path d="M93.5 361.00H121.8" stroke="#000" stroke-width="0.95" fill="none" stroke-dasharray="5.2 4.8"/>
<g fill="#868686" stroke="#000" stroke-width="1.00"><circle cx="107.55" cy="361.00" r="3.15" fill="#b8b8b8"/><path stroke-width="1.1" d="M105.32 358.77L109.78 363.23M105.32 363.23L109.78 358.77"/></g>
<text x="126.74" y="365.50" font-size="16.4" font-style="italic" textLength="8.73" lengthAdjust="spacingAndGlyphs">F</text>
<text x="134.80" y="368.00" font-size="12.4" font-style="italic" textLength="14.59" lengthAdjust="spacingAndGlyphs">ext</text>
<text x="157.10" y="365.50" font-size="16.4" textLength="11.68" lengthAdjust="spacingAndGlyphs">=</text>
<text x="174.40" y="365.50" font-size="16.4" textLength="15.60" lengthAdjust="spacingAndGlyphs">20</text>
<text x="191.40" y="365.50" font-size="16.4" textLength="2.60" lengthAdjust="spacingAndGlyphs">,</text>
<text x="196.60" y="365.50" font-size="16.4" textLength="23.80" lengthAdjust="spacingAndGlyphs">762</text>
<text x="221.40" y="365.50" font-size="16.4" font-style="italic" textLength="13.25" lengthAdjust="spacingAndGlyphs">N</text>
<text x="236.90" y="365.50" font-size="16.4" textLength="2.40" lengthAdjust="spacingAndGlyphs">,</text>
<text x="244.99" y="365.50" font-size="16.4" font-style="italic" textLength="8.55" lengthAdjust="spacingAndGlyphs">μ</text>
<text x="258.30" y="365.50" font-size="16.4" textLength="8.98" lengthAdjust="spacingAndGlyphs">=</text>
<text x="271.90" y="365.50" font-size="16.4" textLength="36.70" lengthAdjust="spacingAndGlyphs">0.143</text>
<text x="314.10" y="365.50" font-size="16.4" textLength="24.48" lengthAdjust="spacingAndGlyphs">Pas</text>
<text x="214.00" y="17.00" font-size="16.2" font-weight="bold" textLength="190.76" lengthAdjust="spacingAndGlyphs">Simulated Stribeck curve</text>
<text x="47.60" y="56.81" font-size="16.4" textLength="20.70" lengthAdjust="spacingAndGlyphs">0.3</text>
<text x="39.10" y="108.00" font-size="16.4" textLength="29.20" lengthAdjust="spacingAndGlyphs">0.25</text>
<text x="47.60" y="159.19" font-size="16.4" textLength="20.70" lengthAdjust="spacingAndGlyphs">0.2</text>
<text x="39.30" y="210.38" font-size="16.4" textLength="29.00" lengthAdjust="spacingAndGlyphs">0.15</text>
<text x="47.20" y="261.57" font-size="16.4" textLength="20.60" lengthAdjust="spacingAndGlyphs">0.1</text>
<text x="59.90" y="363.95" font-size="16.4" textLength="7.90" lengthAdjust="spacingAndGlyphs">0</text>
<text x="14.10" y="315.00" font-size="16.4" textLength="7.40" lengthAdjust="spacingAndGlyphs">5</text>
<text x="26.70" y="316.50" font-size="22" textLength="2.29" lengthAdjust="spacingAndGlyphs">·</text>
<text x="35.30" y="315.00" font-size="16.4" textLength="13.80" lengthAdjust="spacingAndGlyphs">10</text>
<text x="51.80" y="308.70" font-size="12" textLength="7.79" lengthAdjust="spacingAndGlyphs">−</text>
<text x="61.30" y="308.70" font-size="12" textLength="5.60" lengthAdjust="spacingAndGlyphs">2</text>
<text x="133.90" y="406.30" font-size="16.4" textLength="14.90" lengthAdjust="spacingAndGlyphs">10</text>
<text x="151.20" y="399.90" font-size="12" textLength="7.39" lengthAdjust="spacingAndGlyphs">−</text>
<text x="160.10" y="399.90" font-size="12" textLength="5.50" lengthAdjust="spacingAndGlyphs">3</text>
<text x="243.30" y="406.30" font-size="16.4" textLength="14.90" lengthAdjust="spacingAndGlyphs">10</text>
<text x="260.60" y="399.90" font-size="12" textLength="7.39" lengthAdjust="spacingAndGlyphs">−</text>
<text x="269.50" y="399.90" font-size="12" textLength="5.50" lengthAdjust="spacingAndGlyphs">2</text>
<text x="352.70" y="406.30" font-size="16.4" textLength="14.90" lengthAdjust="spacingAndGlyphs">10</text>
<text x="370.00" y="399.90" font-size="12" textLength="7.39" lengthAdjust="spacingAndGlyphs">−</text>
<text x="380.00" y="399.90" font-size="12" textLength="3.20" lengthAdjust="spacingAndGlyphs">1</text>
<text x="467.30" y="406.30" font-size="16.4" textLength="15.00" lengthAdjust="spacingAndGlyphs">10</text>
<text x="483.40" y="399.90" font-size="12" textLength="5.40" lengthAdjust="spacingAndGlyphs">0</text>
<text x="227.40" y="427.50" font-size="16.4" textLength="161.80" lengthAdjust="spacingAndGlyphs">Sliding Velocity [m/s]</text>
<g transform="translate(19.9 236.6) rotate(-90)"><text x="0.00" y="0.00" font-size="16.4" textLength="54.39" lengthAdjust="spacingAndGlyphs">COF [-]</text></g>
</svg></body></html>
